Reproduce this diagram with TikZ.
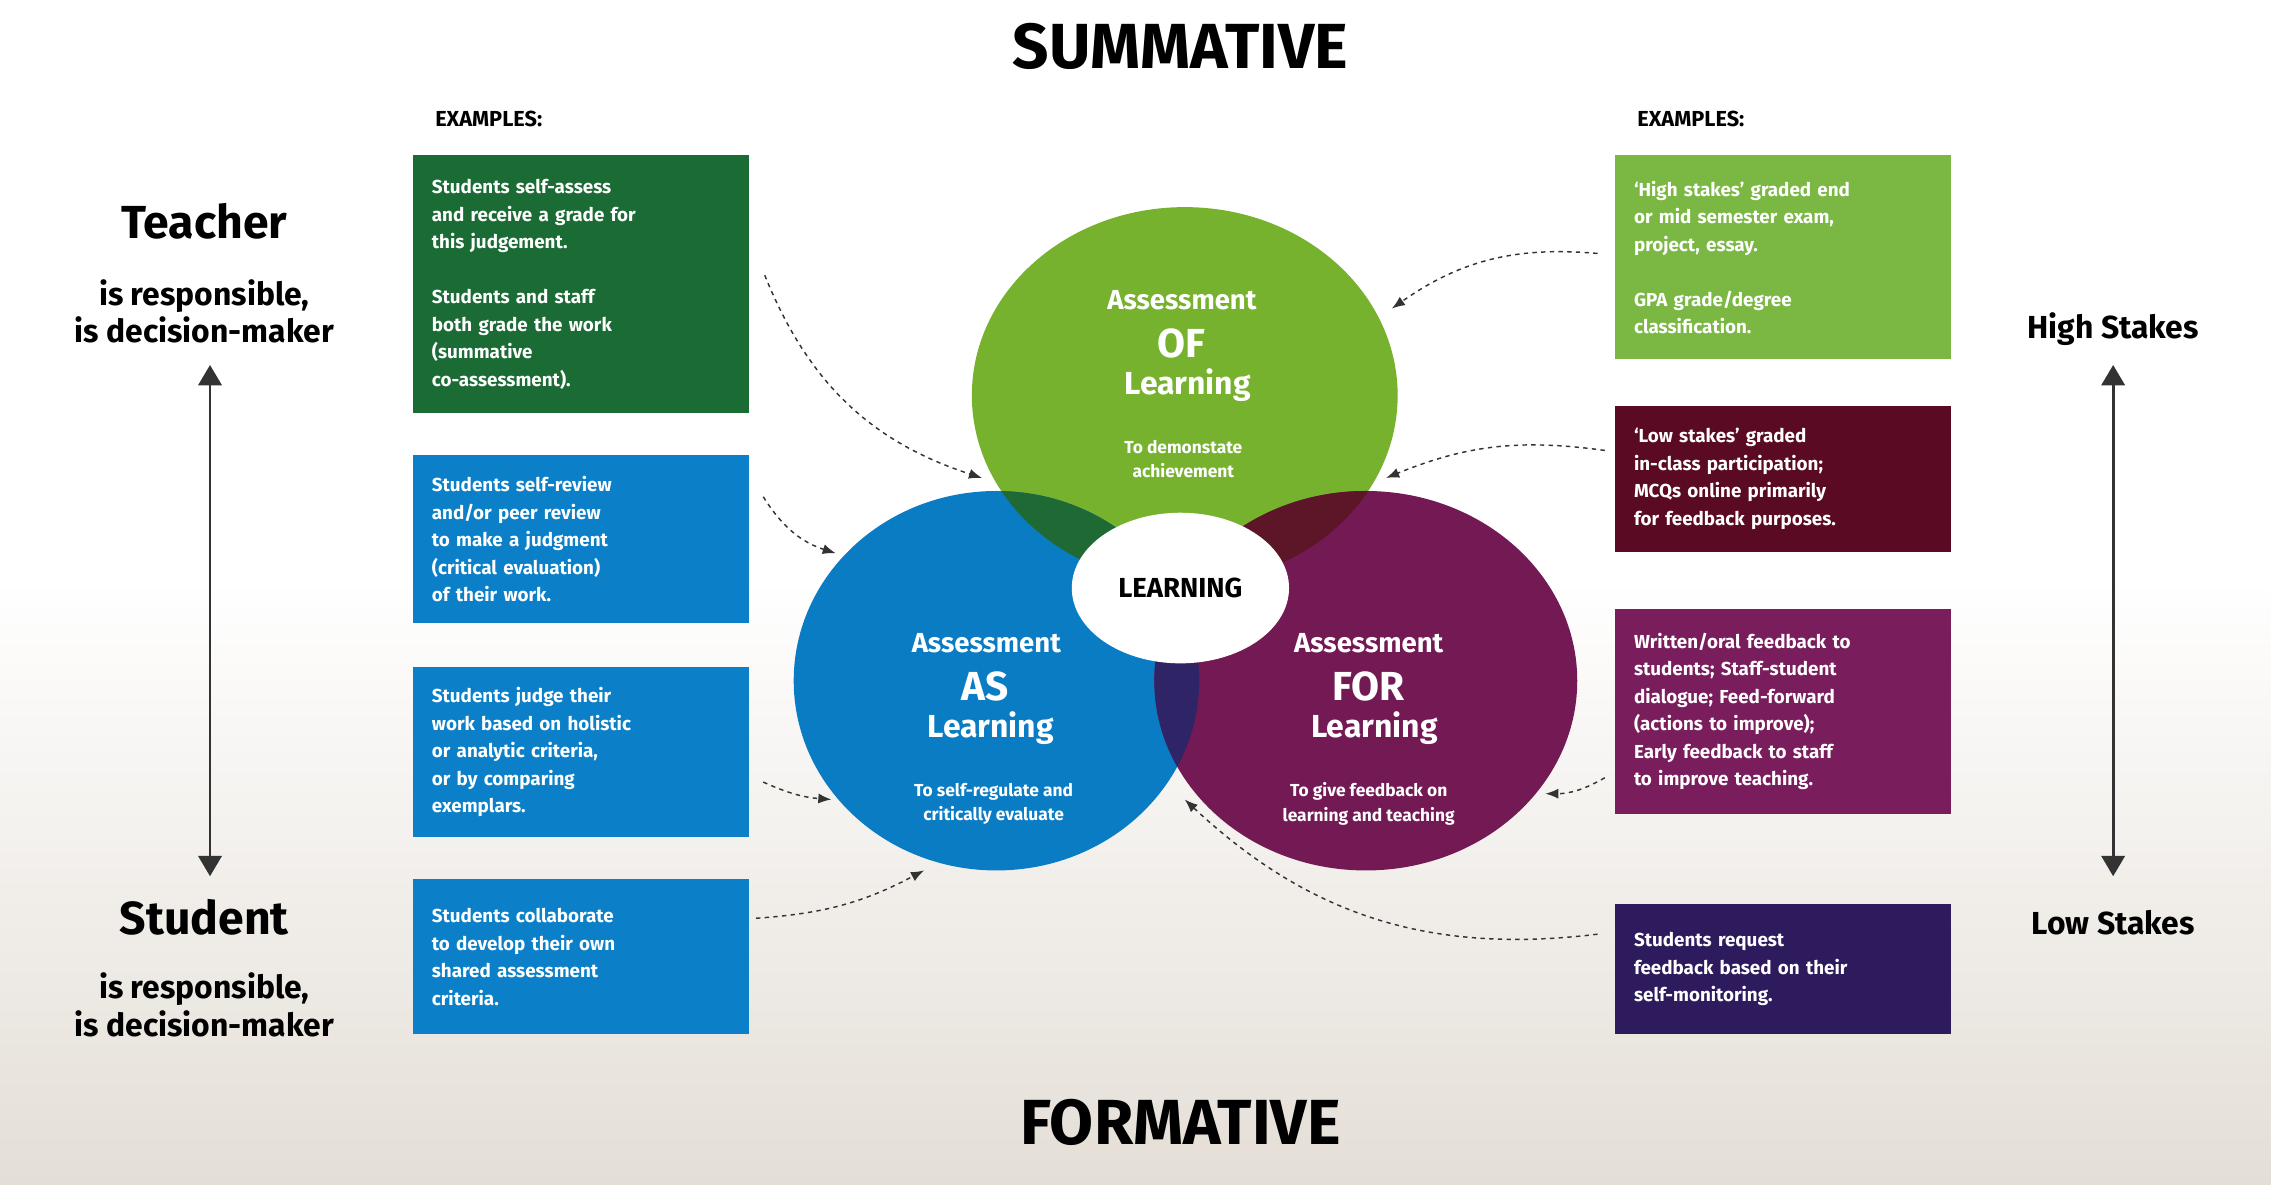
\documentclass[tikz,border=0pt]{standalone}
\usepackage{fontspec}
\setmainfont{Fira Sans}
\usetikzlibrary{arrows.meta,shapes.geometric}
\definecolor{cOF}{HTML}{77B22F}
\definecolor{cAS}{HTML}{0A7CC4}
\definecolor{cFOR}{HTML}{731A55}
\definecolor{xOA}{HTML}{1F6A34}
\definecolor{xOF}{HTML}{5C1628}
\definecolor{xAF}{HTML}{2E2466}
\definecolor{bDG}{HTML}{1B6B35}
\definecolor{bBL}{HTML}{0B80C8}
\definecolor{bLG}{HTML}{7AB843}
\definecolor{bMR}{HTML}{5A0A22}
\definecolor{bPU}{HTML}{7A1D5C}
\definecolor{bIN}{HTML}{2D1B5E}
\definecolor{dk}{HTML}{333333}
\tikzset{
 exbox/.style={anchor=north west,minimum width=232pt,inner xsep=13pt,inner ysep=9pt,text=white,font=\bfseries\fontsize{13}{19}\selectfont,align=left,text width=206pt},
 darr/.style={dashed,draw=dk,line width=1pt,-{Latex[length=9pt,width=7pt]}},
 varr/.style={draw=dk,line width=2pt,{Triangle[length=14pt,width=16pt]}-{Triangle[length=14pt,width=16pt]}},
 head/.style={font=\bfseries\fontsize{44}{48}\selectfont,text=black},
 side/.style={font=\bfseries\fontsize{22}{26}\selectfont,text=black,align=center},
}
\begin{document}
\begin{tikzpicture}[x=1pt,y=-1pt]
\fill[white] (0,0) rectangle (1568,400);
\shade[top color=white,bottom color={rgb,255:red,228;green,222;blue,214}] (0,400) rectangle (1568,818);
\useasboundingbox (0,0) rectangle (1568,818);
% circles
\fill[cOF] (818,273) ellipse [x radius=147,y radius=130];
\fill[cAS] (688,470) ellipse [x radius=140,y radius=131];
\fill[cFOR] (943,470) ellipse [x radius=146,y radius=131];
\begin{scope}
\clip (818,273) ellipse [x radius=147,y radius=130];
\fill[xOA] (688,470) ellipse [x radius=140,y radius=131];
\fill[xOF] (943,470) ellipse [x radius=146,y radius=131];
\end{scope}
\begin{scope}
\clip (688,470) ellipse [x radius=140,y radius=131];
\fill[xAF] (943,470) ellipse [x radius=146,y radius=131];
\end{scope}
\node[fill=white,ellipse,minimum width=150pt,minimum height=104pt,font=\bfseries\fontsize{19}{22}\selectfont] (learn) at (815,406) {LEARNING};
% circle texts
\tikzset{ct/.style={text=white,font=\bfseries\fontsize{19}{22}\selectfont},
 cb/.style={text=white,font=\bfseries\fontsize{28}{30}\selectfont},
 cl/.style={text=white,font=\bfseries\fontsize{22}{24}\selectfont},
 cs/.style={text=white,font=\bfseries\fontsize{12}{17}\selectfont,align=center}}
\node[ct] (of1) at (816,207) {Assessment};
\node[cb] (of2) at (816,237) {OF};
\node[cl] (of3) at (820,266) {Learning};
\node[cs] (of4) at (817,317) {To demonstate\\achievement};
\node[ct] (as1) at (681,444) {Assessment};
\node[cb] (as2) at (680,474) {AS};
\node[cl] (as3) at (684,503) {Learning};
\node[cs] (as4) at (686,555) {To self-regulate and\\critically evaluate};
\node[ct] (fo1) at (945,444) {Assessment};
\node[cb] (fo2) at (945,474) {FOR};
\node[cl] (fo3) at (949,503) {Learning};
\node[cs] (fo4) at (945,555) {To give feedback on\\learning and teaching};
% headings
\node[head] (sum) at (815,32) {SUMMATIVE};
\node[head] (form) at (815,775) {FORMATIVE};
\node[font=\bfseries\fontsize{15}{18}\selectfont,anchor=west] (exl) at (297,82) {EXAMPLES:};
\node[font=\bfseries\fontsize{15}{18}\selectfont,anchor=west] (exr) at (1127,82) {EXAMPLES:};
\node[font=\bfseries\fontsize{32}{36}\selectfont] (teach) at (141,153) {Teacher};
\node[side] (teach2) at (141,215) {is responsible,\\is decision-maker};
\node[font=\bfseries\fontsize{32}{36}\selectfont] (stud) at (141,633) {Student};
\node[side] (stud2) at (141,694) {is responsible,\\is decision-maker};
\node[side] (hs) at (1459,227) {High Stakes};
\node[side] (ls) at (1459,637) {Low Stakes};
\coordinate (vl1) at (145,252); \coordinate (vl2) at (145,605);
\coordinate (vr1) at (1459,252); \coordinate (vr2) at (1459,605);
\draw[varr] (vl1) -- (vl2);
\draw[varr] (vr1) -- (vr2);
% boxes left
\node[exbox,fill=bDG,minimum height=178pt] (b1) at (285,107) {Students self-assess\\and receive a grade for\\this judgement.\\[19pt]Students and staff\\both grade the work\\(summative\\co-assessment).};
\node[exbox,fill=bBL,minimum height=116pt] (b2) at (285,314) {Students self-review\\and/or peer review\\to make a judgment\\(critical evaluation)\\of their work.};
\node[exbox,fill=bBL,minimum height=118pt] (b3) at (285,460) {Students judge their\\work based on holistic\\or analytic criteria,\\or by comparing\\exemplars.};
\node[exbox,fill=bBL,minimum height=107pt] (b4) at (285,607) {Students collaborate\\to develop their own\\shared assessment\\criteria.};
% boxes right
\node[exbox,fill=bLG,minimum height=141pt] (r1) at (1115,107) {`High stakes' graded end\\or mid semester exam,\\project, essay.\\[19pt]GPA grade/degree\\classification.};
\node[exbox,fill=bMR,minimum height=101pt] (r2) at (1115,280) {`Low stakes' graded\\in-class participation;\\MCQs online primarily\\for feedback purposes.};
\node[exbox,fill=bPU,minimum height=142pt] (r3) at (1115,420) {Written/oral feedback to\\students; Staff-student\\dialogue; Feed-forward\\(actions to improve);\\Early feedback to staff\\to improve teaching.};
\node[exbox,fill=bIN,minimum height=90pt] (r4) at (1115,624) {Students request\\feedback based on their\\self-monitoring.};
% arrow coordinates
\coordinate (a1s) at (528,190); \coordinate (a1e) at (678,330);
\coordinate (a2s) at (527,343); \coordinate (a2e) at (577,382);
\coordinate (a3s) at (527,540); \coordinate (a3e) at (574,552);
\coordinate (a4s) at (522,634); \coordinate (a4e) at (638,601);
\coordinate (c1s) at (1103,175); \coordinate (c1e) at (961,213);
\coordinate (c2s) at (1108,311); \coordinate (c2e) at (957,330);
\coordinate (c3s) at (1108,537); \coordinate (c3e) at (1067,548);
\coordinate (c4s) at (1103,645); \coordinate (c4e) at (818,552);
\draw[darr] (a1s) to[bend right=25] (a1e);
\draw[darr] (a2s) to[bend right=20] (a2e);
\draw[darr] (a3s) to[bend right=10] (a3e);
\draw[darr] (a4s) to[bend right=12] (a4e);
\draw[darr] (c1s) to[bend right=20] (c1e);
\draw[darr] (c2s) to[bend right=15] (c2e);
\draw[darr] (c3s) to[bend left=15] (c3e);
\draw[darr] (c4s) to[bend left=25] (c4e);
\end{tikzpicture}
\end{document}
